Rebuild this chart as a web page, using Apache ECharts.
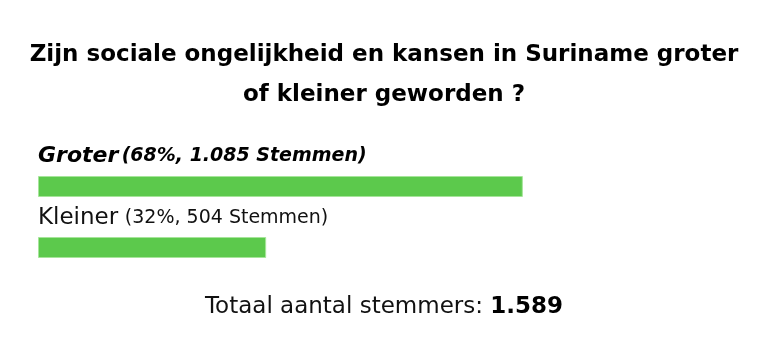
<!DOCTYPE html>
<html>
<head>
<meta charset="utf-8">
<script src="https://cdn.jsdelivr.net/npm/echarts@6/dist/echarts.min.js"></script>
<style>html,body{margin:0;padding:0;background:#fff}#c{width:768px;height:339px}</style>
</head>
<body>
<div id="c"></div>
<script>
const categories = ['Groter', 'Kleiner'];
const percents = [68, 32];
const votes = ['1.085', '504'];
const totalVotes = '1.589';
const titleText = 'Zijn sociale ongelijkheid en kansen in Suriname groter\nof kleiner geworden ?';

const FONT = '"DejaVu Sans", sans-serif';
const chart = echarts.init(document.getElementById('c'));
chart.setOption({
  backgroundColor: '#ffffff',
  animation: false,
  title: [{
    text: titleText,
    left: 'center',
    top: 30,
    textStyle: { fontFamily: FONT, fontSize: 23, fontWeight: 'bold', color: '#000', lineHeight: 40, align: 'center' }
  }, {
    text: '{a|Totaal aantal stemmers: }{b|' + totalVotes + '}',
    left: 'center',
    top: 291,
    textStyle: {
      fontWeight: 'normal',
      rich: {
        a: { fontFamily: FONT, fontSize: 23, fontWeight: 'normal', color: '#111' },
        b: { fontFamily: FONT, fontSize: 23, fontWeight: 'bold', color: '#000' }
      }
    }
  }],
  grid: { left: 38, right: 17, top: 156, bottom: 61 },
  xAxis: { type: 'value', min: 0, max: 100, show: false },
  yAxis: { type: 'category', data: categories, inverse: true, show: false },
  series: [{
    type: 'bar',
    barWidth: 21,
    data: percents.map((p, i) => ({
      value: p,
      label: {
        show: true,
        position: i === 0 ? [0, -31] : [0, -30],
        formatter: i === 0
          ? '{n0|' + categories[i] + '} {d0|(' + p + '%, ' + votes[i] + ' Stemmen)}'
          : '{n1|' + categories[i] + '}  {d1|(' + p + '%, ' + votes[i] + ' Stemmen)}',
        rich: {
          n0: { fontFamily: FONT, fontSize: 22, fontWeight: 'bold', fontStyle: 'italic', color: '#000' },
          d0: { fontFamily: FONT, fontSize: 19, fontWeight: 'bold', fontStyle: 'italic', color: '#000' },
          n1: { fontFamily: FONT, fontSize: 23, color: '#111' },
          d1: { fontFamily: FONT, fontSize: 19, color: '#111' }
        }
      }
    })),
    itemStyle: { color: '#5cc94c', borderColor: '#a6e59a', borderWidth: 1 }
  }]
});
</script>
</body>
</html>
